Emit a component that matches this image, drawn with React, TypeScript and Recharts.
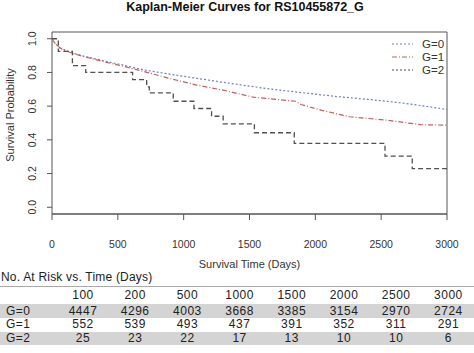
import React from 'react';
import { LineChart, Line, XAxis, YAxis, ReferenceArea, Legend } from 'recharts';

// Kaplan-Meier survival estimates (day, survival probability)
const g0Days = [0, 20, 60, 100, 160, 250, 400, 550, 700, 900, 1100, 1400, 1650, 1900, 2150, 2400, 2650, 2850, 3000];
const g0Surv = [1.0, 0.975, 0.947, 0.932, 0.915, 0.895, 0.868, 0.842, 0.815, 0.789, 0.765, 0.73, 0.702, 0.68, 0.658, 0.64, 0.62, 0.598, 0.58];

const g1Days = [0, 20, 60, 100, 160, 250, 400, 550, 700, 900, 1100, 1300, 1530, 1850, 1890, 2050, 2260, 2540, 2800, 3000];
const g1Surv = [1.0, 0.975, 0.945, 0.93, 0.912, 0.892, 0.862, 0.835, 0.805, 0.763, 0.725, 0.695, 0.653, 0.629, 0.61, 0.575, 0.537, 0.517, 0.49, 0.487];

const g2Days = [0, 48, 155, 256, 612, 719, 739, 921, 1078, 1212, 1300, 1537, 1840, 2529, 2736, 3000];
const g2Surv = [1.0, 0.925, 0.84, 0.8, 0.757, 0.714, 0.679, 0.629, 0.586, 0.54, 0.495, 0.442, 0.379, 0.304, 0.229, 0.229];

const xTicks = [0, 500, 1000, 1500, 2000, 2500, 3000];
const yTicks = [0, 0.2, 0.4, 0.6, 0.8, 1.0];

// Number at risk table
const riskTimes = ['100', '200', '500', '1000', '1500', '2000', '2500', '3000'];
const riskG0 = [4447, 4296, 4003, 3668, 3385, 3154, 2970, 2724];
const riskG1 = [552, 539, 493, 437, 391, 352, 311, 291];
const riskG2 = [25, 23, 22, 17, 13, 10, 10, 6];
const groupNames = ['G=0', 'G=1', 'G=2'];

const toSeries = (days: number[], surv: number[]) => days.map((d, i) => ({ day: d, surv: surv[i] }));
const s0 = toSeries(g0Days, g0Surv);
const s1 = toSeries(g1Days, g1Surv);
const s2 = toSeries(g2Days, g2Surv);

const FONT = '"Liberation Sans", Arial, sans-serif';
const AXIS = '#555';

const seriesStyle = [
  { name: 'G=0', color: '#7080c0', dash: '2 2' },
  { name: 'G=1', color: '#c06060', dash: '5 2 1 2' },
  { name: 'G=2', color: '#505050', dash: '5 3' },
];

const XTick = (props: any) => {
  const { x, y, payload } = props;
  return (
    <text x={x} y={y + 26} textAnchor="middle" fontFamily={FONT} fontSize={10.5} fill="#333">
      {payload.value}
    </text>
  );
};

const YTick = (props: any) => {
  const { y, payload } = props;
  const tx = 36;
  return (
    <text x={tx} y={y} transform={`rotate(-90, ${tx}, ${y})`} textAnchor="middle" fontFamily={FONT} fontSize={10.5} fill="#333">
      {Number(payload.value).toFixed(1)}
    </text>
  );
};

const LegendContent = () => (
  <svg width={70} height={40} style={{ display: 'block' }}>
    {seriesStyle.map((s, i) => (
      <g key={s.name}>
        <line x1={0} x2={21} y1={5 + i * 13} y2={5 + i * 13} stroke={s.color} strokeWidth={1.2} strokeDasharray={i === 2 ? '2 2' : s.dash} />
        <text x={30} y={9 + i * 13} fontFamily={FONT} fontSize={11.5} fill="#333">{s.name}</text>
      </g>
    ))}
  </svg>
);

const rowBands = [true, false, true];

export default function App() {
  const colX = (i: number) => 83 + i * 52.2;
  const rows = [riskG0, riskG1, riskG2];
  const rowH = 13.8;
  const bandTop = 304;
  const cell: React.CSSProperties = { position: 'absolute', lineHeight: '13px', whiteSpace: 'nowrap' };
  return (
    <div style={{ position: 'absolute', left: 0, top: 0, width: 474, height: 353, background: '#fff', overflow: 'hidden' }}>
      <div style={{ position: 'absolute', left: 0, top: 0, width: 474, textAlign: 'center', fontFamily: FONT, fontWeight: 'bold', fontSize: 12.5, lineHeight: '15px', color: '#111' }}>
        <span style={{ position: 'relative', left: 8 }}>Kaplan-Meier Curves for RS10455872_G</span>
      </div>
      <div style={{ position: 'absolute', left: 0, top: 0 }}>
        <LineChart width={474} height={275} margin={{ top: 32, right: 27, bottom: 3, left: 0 }}>
          <XAxis
            dataKey="day"
            type="number"
            domain={[0, 3000]}
            ticks={xTicks}
            allowDataOverflow
            height={58}
            tick={<XTick />}
            tickSize={6}
            stroke={AXIS}
            axisLine={{ stroke: AXIS }}
            tickLine={{ stroke: AXIS }}
            label={{ value: 'Survival Time (Days)', position: 'insideBottom', offset: 4, style: { fontFamily: FONT, fontSize: 11, fill: '#333' } }}
          />
          <YAxis
            type="number"
            domain={[-0.04, 1.04]}
            ticks={yTicks}
            allowDataOverflow
            width={52}
            tick={<YTick />}
            tickSize={5}
            stroke={AXIS}
            axisLine={false}
            tickLine={{ stroke: AXIS }}
            label={{ value: 'Survival Probability', angle: -90, position: 'insideLeft', offset: 10, dy: -8, style: { textAnchor: 'middle', fontFamily: FONT, fontSize: 11, fill: '#333' } }}
          />
          <ReferenceArea x1={0} x2={3000} y1={-0.04} y2={1.04} fill="none" stroke={AXIS} strokeWidth={1} ifOverflow="visible" />
          <Legend layout="vertical" verticalAlign="middle" align="center" content={<LegendContent />} wrapperStyle={{ position: 'absolute', top: 39, left: 392, width: 70, height: 40 }} />
          <Line data={s0} dataKey="surv" name="G=0" type="linear" stroke={seriesStyle[0].color} strokeWidth={1.2} strokeDasharray={seriesStyle[0].dash} dot={false} isAnimationActive={false} />
          <Line data={s1} dataKey="surv" name="G=1" type="linear" stroke={seriesStyle[1].color} strokeWidth={1.2} strokeDasharray={seriesStyle[1].dash} dot={false} isAnimationActive={false} />
          <Line data={s2} dataKey="surv" name="G=2" type="stepAfter" stroke={seriesStyle[2].color} strokeWidth={1.3} strokeDasharray={seriesStyle[2].dash} dot={false} isAnimationActive={false} />
        </LineChart>
      </div>
      {/* Number at risk table */}
      <div style={{ position: 'absolute', left: 0, top: 0, width: 474, height: 353, fontFamily: FONT, fontSize: 12, letterSpacing: 0.5, color: '#222' }}>
        <div style={{ ...cell, left: 1, top: 269, lineHeight: '16px', letterSpacing: 0.2 }}>No. At Risk vs. Time (Days)</div>
        <div style={{ position: 'absolute', left: 0, top: 286, width: 474, height: 1, background: '#aaa' }} />
        {rowBands.map((band, r) => (
          <div key={r} style={{ position: 'absolute', left: 0, top: bandTop + r * rowH, width: 474, height: rowH, background: band ? '#d4d4d4' : 'transparent' }} />
        ))}
        {riskTimes.map((t, i) => (
          <div key={t} style={{ ...cell, left: colX(i) - 25, width: 50, textAlign: 'center', top: 288.5 }}>{t}</div>
        ))}
        {rows.map((row, r) => (
          <React.Fragment key={r}>
            <div style={{ ...cell, left: 6, top: bandTop + r * rowH + 0.5 }}>{groupNames[r]}</div>
            {row.map((v, i) => (
              <div key={i} style={{ ...cell, left: colX(i) - 25, width: 50, textAlign: 'center', top: bandTop + r * rowH + 0.5 }}>{v}</div>
            ))}
          </React.Fragment>
        ))}
      </div>
    </div>
  );
}
